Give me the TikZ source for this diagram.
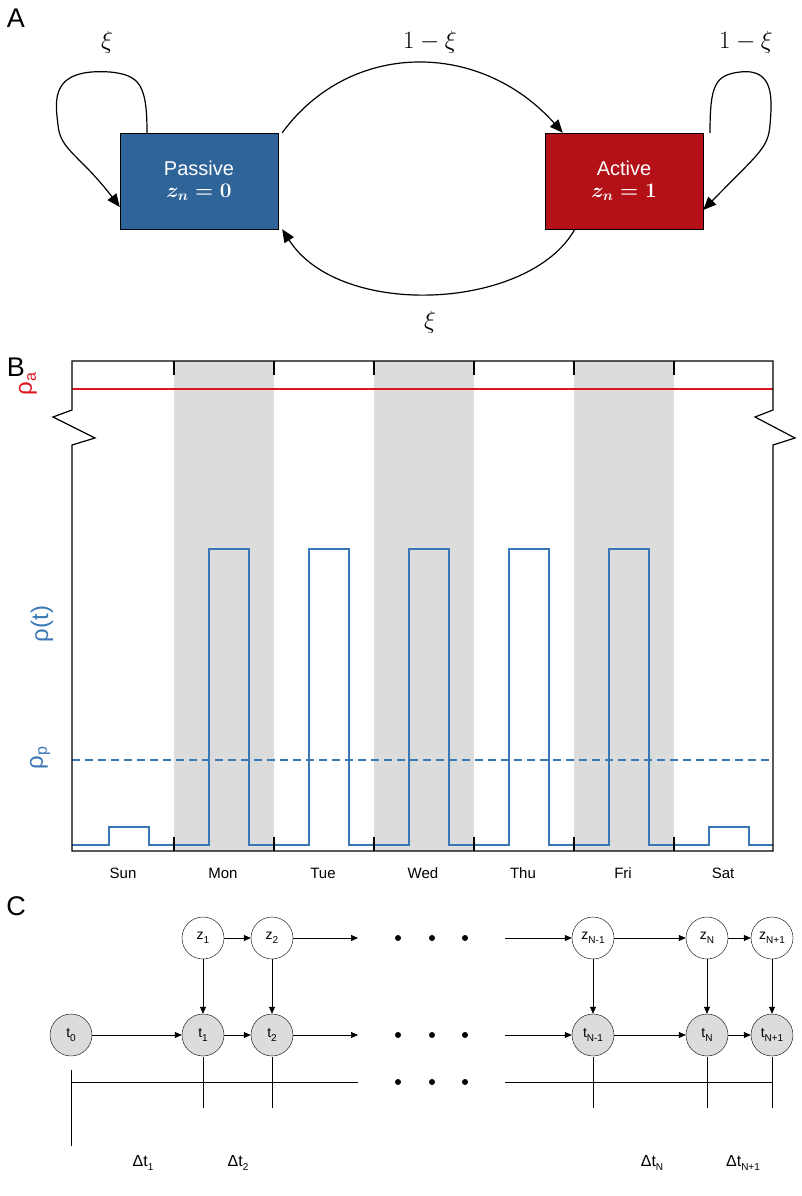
\documentclass[tikz,border=0pt]{standalone}
\usepackage{fontspec}
\setmainfont{Liberation Sans}
\usepackage{amsmath}
\usetikzlibrary{arrows.meta}
\definecolor{pblue}{HTML}{2F6499}
\definecolor{ared}{HTML}{E0141E}
\definecolor{sig}{HTML}{3A78B5}
\definecolor{band}{HTML}{DCDCDC}
\newcommand{\subx}[2]{#1\raisebox{-4pt}{\fontsize{10}{11}\selectfont #2}}
\begin{document}
\begin{tikzpicture}[x=1pt,y=-1pt,
  arr/.style={-{Triangle[length=13pt,width=11pt]},line width=1.2pt},
  sarr/.style={-{Triangle[length=7pt,width=6pt]},line width=0.7pt},
  statebox/.style={draw=black,minimum width=158pt,minimum height=96pt,text=white,font=\fontsize{20}{24}\selectfont,align=center},
  zc/.style={circle,draw,fill=white,minimum size=42pt,inner sep=0pt,font=\fontsize{14}{16}\selectfont},
  tc/.style={zc,fill=band},
  lab/.style={font=\fontsize{27}{30}\selectfont},
  day/.style={font=\fontsize{15}{17}\selectfont}]
\useasboundingbox (0,0) rectangle (801,1196);
% Panel A
\node[lab] (LA) at (16,18) {A};
\node[statebox,fill=pblue] (pas) at (199,181) {Passive\\[-2pt] {\boldmath$z_n=0$}};
\node[statebox,fill=ared!80!black] (act) at (624,181) {Active\\[-2pt] {\boldmath$z_n=1$}};
\draw[arr] ([xshift=-52pt]pas.north) .. controls (147,85) and (140,75) .. (110,72) .. controls (50,68) and (55,100) .. (58,125) .. controls (60,150) and (80,155) .. ([yshift=-26pt]pas.west);
\draw[arr] ([xshift=86pt]act.north) .. controls (710,85) and (715,75) .. (740,72) .. controls (775,68) and (772,100) .. (770,125) .. controls (768,148) and (760,152) .. ([yshift=-29pt]act.east);
\draw[arr] ([xshift=4pt]pas.north east) .. controls (350,40) and (480,40) .. ([xshift=18pt]act.north west);
\draw[arr] ([xshift=30pt]act.south west) .. controls (530,310) and (340,320) .. ([xshift=4pt]pas.south east);
\node[font=\fontsize{24}{26}\selectfont] (x1) at (107,42) {$\xi$};
\node[font=\fontsize{24}{26}\selectfont] (x2) at (430,42) {$1-\xi$};
\node[font=\fontsize{24}{26}\selectfont] (x3) at (746,42) {$1-\xi$};
\node[font=\fontsize{24}{26}\selectfont] (x4) at (430,322) {$\xi$};
% Panel B
\node[lab] (LB) at (16,367) {B};
\foreach \a in {174,374,574} \fill[band] (\a,361) rectangle (\a+100,851);
\draw[ared,line width=1.2pt] (72,389) -- (773,389);
\draw[sig,line width=1.2pt,dash pattern=on 8pt off 5pt] (72,760) -- (773,760);
\draw[sig,line width=1.5pt] (72,845) -- (109,845) -- (109,827) -- (149,827) -- (149,845)
  \foreach \a in {209,309,409,509,609} {-- (\a,845) -- (\a,549) -- (\a+40,549) -- (\a+40,845)}
  -- (709,845) -- (709,827) -- (749,827) -- (749,845) -- (773,845);
\draw[line width=1.2pt] (72,851) -- (72,445) -- (95,438) -- (53,417) -- (72,410) -- (72,361) -- (773,361) -- (773,410) -- (755,417) -- (795,438) -- (773,445) -- (773,851) -- cycle;
\foreach \a in {174,274,374,474,574,674} {\draw[line width=1.2pt] (\a,361) -- (\a,375); \draw[line width=1.2pt] (\a,851) -- (\a,837);}
\foreach \d [count=\i from 0] in {Sun,Mon,Tue,Wed,Thu,Fri,Sat} \node[day] (d\i) at (123+100*\i,873) {\d};
\node[ared,rotate=90,font=\fontsize{24}{26}\selectfont] (ra) at (28,384) {ρ\raisebox{-4pt}{\fontsize{16}{17}\selectfont a}};
\node[sig,rotate=90,font=\fontsize{24}{26}\selectfont] (rt) at (42,624) {ρ(t)};
\node[sig,rotate=90,font=\fontsize{24}{26}\selectfont] (rp) at (40,758) {ρ\raisebox{-4pt}{\fontsize{16}{17}\selectfont p}};
% Panel C
\node[lab] (LC) at (16,906) {C};
\node[zc] (z1) at (203,938) {\subx{z}{1}};
\node[zc] (z2) at (272,938) {\subx{z}{2}};
\node[zc] (zA) at (593,938) {\subx{z}{N-1}};
\node[zc] (zB) at (707,938) {\subx{z}{N}};
\node[zc] (zC) at (772,938) {\subx{z}{N+1}};
\node[tc] (t0) at (71,1035) {\subx{t}{0}};
\node[tc] (t1) at (203,1035) {\subx{t}{1}};
\node[tc] (t2) at (272,1035) {\subx{t}{2}};
\node[tc] (tA) at (593,1035) {\subx{t}{N-1}};
\node[tc] (tB) at (707,1035) {\subx{t}{N}};
\node[tc] (tC) at (772,1035) {\subx{t}{N+1}};
\coordinate (ze) at (358,938); \coordinate (zs) at (505,938);
\coordinate (te) at (358,1035); \coordinate (ts) at (505,1035);
\draw[sarr] (z1) -- (z2); \draw[sarr] (z2) -- (ze); \draw[sarr] (zs) -- (zA);
\draw[sarr] (zA) -- (zB); \draw[sarr] (zB) -- (zC);
\draw[sarr] (t0) -- (t1); \draw[sarr] (t1) -- (t2); \draw[sarr] (t2) -- (te); \draw[sarr] (ts) -- (tA);
\draw[sarr] (tA) -- (tB); \draw[sarr] (tB) -- (tC);
\foreach \n in {1,2,A,B,C} \draw[sarr] (z\n) -- (t\n);
\foreach \y in {938,1035,1082} \foreach \x in {398,432,465} \fill (\x,\y) circle (3pt);
\draw[line width=1pt] (71,1082) -- (358,1082) (505,1082) -- (772,1082);
\draw[line width=1pt] (71,1070) -- (71,1146);
\foreach \x in {203,272,593,707,772} \draw[line width=1pt] (\x,1057) -- (\x,1108);
\node[day,font=\fontsize{16}{18}\selectfont] (D1) at (143,1163) {Δ\subx{t}{1}};
\node[day,font=\fontsize{16}{18}\selectfont] (D2) at (238,1163) {Δ\subx{t}{2}};
\node[day,font=\fontsize{16}{18}\selectfont] (D3) at (652,1163) {Δ\subx{t}{N}};
\node[day,font=\fontsize{16}{18}\selectfont] (D4) at (743,1163) {Δ\subx{t}{N+1}};
\end{tikzpicture}
\end{document}
